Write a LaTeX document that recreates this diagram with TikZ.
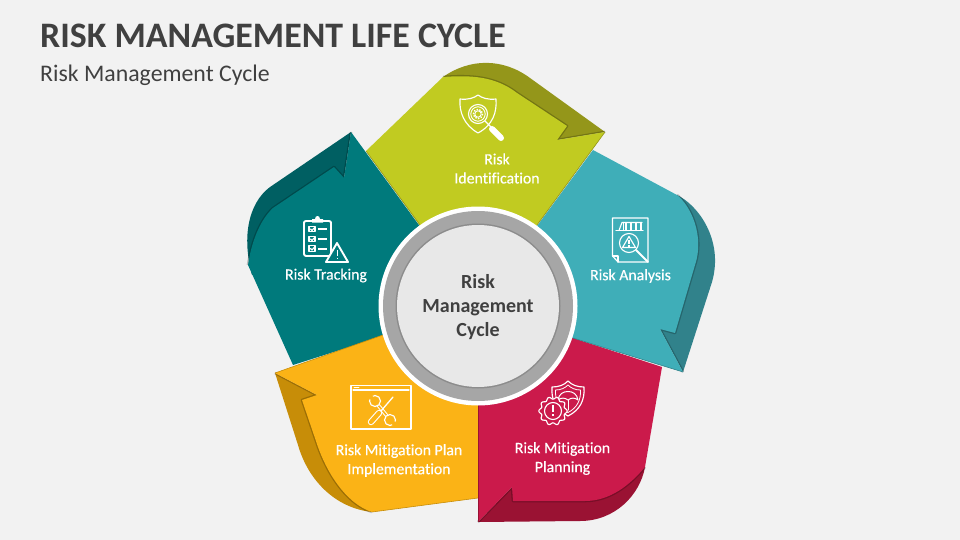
\documentclass[tikz,border=0pt]{standalone}
\usepackage{fontspec}
\setmainfont{Carlito}[Ligatures=NoCommon]
\newfontfamily\labelfont{Carlito}[Ligatures=NoCommon,FakeBold=0.35]
\usepackage{tikz}
\usetikzlibrary{positioning}

\definecolor{pagebg}{HTML}{F2F2F2}
\definecolor{inktext}{HTML}{404040}
\definecolor{limeMain}{HTML}{C1CB21}
\definecolor{limeDark}{HTML}{94961A}
\definecolor{aquaMain}{HTML}{3FAEB8}
\definecolor{aquaDark}{HTML}{31828B}
\definecolor{redMain}{HTML}{CB1A4B}
\definecolor{redDark}{HTML}{9A1233}
\definecolor{goldMain}{HTML}{FBB316}
\definecolor{goldDark}{HTML}{C78D08}
\definecolor{tealMain}{HTML}{007A7C}
\definecolor{tealDark}{HTML}{005F62}

\tikzset{
	steplabel/.style={text=white, align=center, inner sep=0pt, font=\labelfont\fontsize{15.8}{19}\selectfont},
	iconline/.style={draw=white, line width=1.15pt, line join=round, line cap=round},
	iconbold/.style={draw=white, line width=1.9pt, line join=round, line cap=round},
	softedge/.style={draw=black, opacity=.22, line width=2.6pt, line join=round},
}

\def\limeInner{(443,77) .. controls (470,75) and (495,76) .. (517,93) -- (567,126) -- (557,140) -- (605,132)}
\def\tealInner{(351,132) -- (344,178) -- (334,167) -- (273,208) .. controls (262,218) and (252,238) .. (248,265)}
\def\goldInner{(275,373) -- (317,395) -- (302,400) -- (318,447) .. controls (330,480) and (350,505) .. (372,512)}
\def\redInner{(478,522) -- (512,487) -- (513,501) -- (585,501) .. controls (610,501) and (630,485) .. (645,467)}
\def\aquaInner{(677,195) .. controls (690,205) and (705,235) .. (695,265) -- (675,333) -- (660,329) -- (683,372)}

\begin{document}
\begin{tikzpicture}[x=1pt, y=-1pt]
	\useasboundingbox (0,0) rectangle (960,540);
	\fill[pagebg] (0,0) rectangle (960,540);

	\node[anchor=west, text=inktext, inner sep=0pt, font=\fontsize{35.85}{40}\selectfont\bfseries] (title) at (40,35.5) {RISK MANAGEMENT LIFE CYCLE};
	\node[anchor=west, text=inktext, inner sep=0pt, font=\fontsize{23.8}{28}\selectfont] (subtitle) at (40,75) {Risk Management Cycle};

	% lime segment
	\fill[limeDark] (443,77) .. controls (470,58) and (503,58) .. (530,78) -- (605,132) -- (557,140) -- cycle;
	\draw[softedge] \limeInner;
	\fill[limeMain] (366,151) -- \limeInner -- (478,306) -- cycle;

	% dark teal segment
	\fill[tealDark] (351,132) -- (273,185) .. controls (252,198) and (240,230) .. (252,275) -- (300,270) -- (344,178) -- cycle;
	\draw[softedge] \tealInner;
	\fill[tealMain] \tealInner -- (293,365) -- (478,306) -- cycle;
	\draw[limeDark, line width=.6pt] (366,151) -- (420,225);

	% gold segment
	\fill[goldDark] (275,373) -- (298,445) .. controls (308,480) and (335,508) .. (372,512) -- (340,420) -- (317,395) -- cycle;
	\draw[softedge] \goldInner;
	\fill[goldMain] \goldInner -- (478,498) -- (478,306) -- (383,335) -- cycle;
	\draw[goldDark, line width=.6pt] (275,373) -- (383,335) (372,512) -- (478,498);

	% red segment
	\fill[redDark] (645,467) .. controls (640,495) and (615,521) .. (580,521) -- (478,522) -- (512,487) -- (600,470) -- cycle;
	\draw[softedge] \redInner;
	\fill[redMain] \redInner -- (662,367) -- (573,338) -- (478,306) -- cycle;
	\draw[redDark, line width=.6pt] (478,400) -- (478,522);

	% aqua segment
	\fill[aquaDark] (677,195) .. controls (698,205) and (724,240) .. (712,282) -- (683,372) -- (660,329) -- (660,250) -- cycle;
	\draw[softedge] \aquaInner;
	\fill[aquaMain] (593,150) -- \aquaInner -- (573,338) -- (478,306) -- cycle;
	\draw[aquaDark, line width=.6pt] (683,372) -- (573,338);
	\draw[limeDark, line width=.6pt] (605,132) -- (537,225);

	% hub
	\node[circle, fill=white, inner sep=0pt, minimum size=199pt] (hubEdge) at (478,306) {};
	\node[circle, fill=black!35, inner sep=0pt, minimum size=190pt] (hubRing) at (hubEdge) {};
	\node[circle, fill=black!45, inner sep=0pt, minimum size=165pt] (hubShade) at (hubEdge) {};
	\node[circle, fill=black!9, inner sep=0pt, minimum size=162pt] (hub) at (hubEdge) {};
	\node[text=inktext, align=center, inner sep=0pt, font=\fontsize{20}{24}\selectfont\bfseries] (hubLabel) at (478,307) {Risk\\Management\\Cycle};

	\node[steplabel] (identification) at (497,168.5) {Risk\\Identification};
	\node[steplabel] (analysis) at (630.5,276) {Risk Analysis};
	\node[steplabel] (planning) at (562.5,458.5) {Risk Mitigation\\Planning};
	\node[steplabel] (implementation) at (399,460.5) {Risk Mitigation Plan\\Implementation};
	\node[steplabel] (tracking) at (326,275.5) {Risk Tracking};

	% shield with magnifier
	\draw[iconline] (460,99) .. controls (468,100) and (474,98) .. (478,95) .. controls (482,98) and (488,100) .. (496,99) .. controls (497,112) and (493,125) .. (478,133) .. controls (464,125) and (459,112) .. (460,99) -- cycle;
	\draw[iconline, fill=limeMain] (478,114) circle (9.5);
	\draw[iconline, line width=.9pt] (478,114) circle (7.2);
	\draw[white, line width=1.4pt, dash pattern=on 1.5pt off 1.3pt] (478,114) circle (4.6);
	\draw[white, line width=.9pt] (478,114) circle (3.2);
	\draw[iconline] (485,121) -- (491,127);
	\draw[white, line width=6pt, line cap=round] (492,129) -- (501,138);

	% report with magnifier
	\draw[iconline] (612.5,218) -- (648,218) -- (648,262) -- (618,262) -- (612.5,256) -- cycle;
	\draw[iconline] (612.5,256) -- (618,256) -- (618,262);
	\draw[iconline] (616,230.5) -- (643,230.5);
	\draw[iconline] (619,230.5) -- (622,222.5) -- (642,222.5);
	\foreach \xbar in {623.5,626,631,636,641}
		\draw[iconline] (\xbar,222.5) -- (\xbar,230.5);
	\draw[iconline, fill=aquaMain] (629,243) circle (9.5);
	\draw[iconline] (629,236.5) -- (635.5,247.5) -- (622.5,247.5) -- cycle;
	\draw[white, line width=1.2pt] (629,240) -- (629,244) (629,245) -- (629,246.5);
	\draw[iconbold] (636,250) -- (648,262);

	% shield with umbrella and gear
	\draw[iconline] (552,387) .. controls (559,387) and (564,385) .. (568,381) .. controls (572,385) and (577,387) .. (584,387) .. controls (585,400) and (580,410) .. (568,416) .. controls (556,410) and (551,400) .. (552,387) -- cycle;
	\draw[iconline, line width=.8pt] (555.5,390) .. controls (561,390) and (565,388) .. (568,385) .. controls (571,388) and (575,390) .. (580.5,390) .. controls (581,400) and (577,408) .. (568,412.5) .. controls (559,408) and (555,400) .. (555.5,390) -- cycle;
	\draw[iconline, line width=1pt] (558,400) .. controls (559,394) and (563,391.5) .. (568,391.5) .. controls (573,391.5) and (577,394) .. (578,400) .. controls (575,397.5) and (571,397.5) .. (568,400) .. controls (565,397.5) and (561,397.5) .. (558,400) -- cycle;
	\draw[iconline, line width=1pt] (568,400) -- (568,410);
	\draw[iconline, fill=redMain] plot[domain=0:360, samples=96, smooth] ({553+(13+1.2*cos(10*\x))*cos(\x)}, {411+(13+1.2*cos(10*\x))*sin(\x)}) -- cycle;
	\draw[iconline] (553,411) circle (8.5);
	\draw[white, line width=1.8pt] (553,405) -- (553,412) (553,414) -- (553,416);

	% window with crossed tools
	\draw[iconline, line width=1.2pt] (351,385.5) rectangle (411,429);
	\draw[iconline] (353,390) -- (409,390);
	\draw[iconline, line width=.7pt] (354,387.5) -- (359,387.5);
	\draw[white, line width=3.6pt] (378,405) -- (387,416);
	\draw[goldMain, line width=1.6pt] (378,405) -- (387,416);
	\draw[iconline, fill=goldMain] (375,401) circle (5.5);
	\draw[goldMain, line width=4pt] (370,396.5) -- (375,401);
	\draw[iconline, fill=goldMain] (390,420) circle (5.5);
	\draw[goldMain, line width=4pt] (395,424.5) -- (390,420);
	\draw[iconbold, line width=1.3pt] (393,397) -- (381,411);
	\draw[white, line width=6.4pt, line cap=round] (379,413) -- (371,422);
	\draw[goldMain, line width=4.2pt, line cap=round] (379,413) -- (371,422);

	% clipboard with warning sign
	\draw[iconbold] (312,221) -- (306,221) .. controls (304.5,221) and (304,222) .. (304,223) -- (304,254) .. controls (304,255) and (305,256) .. (306,256) -- (329,256) .. controls (330.5,256) and (331,255) .. (331,254) -- (331,223) .. controls (331,222) and (330.5,221) .. (329,221) -- (323,221);
	\fill[white] (312,222.5) -- (312,219) -- (315,219) .. controls (315,215) and (320,215) .. (320,219) -- (323,219) -- (323,222.5) -- cycle;
	\foreach \yrow in {229,239,248.5} {
		\draw[iconline, line width=1.1pt] (309,\yrow-2.7) rectangle (315,\yrow+2.7);
		\draw[iconline, line width=1.2pt] (310.5,\yrow) -- (312,\yrow+1.5) -- (315,\yrow-2);
		\draw[white, line width=2pt] (318,\yrow) -- (327,\yrow);
	}
	\draw[iconbold, fill=tealMain] (337,243) -- (348,262) -- (326,262) -- cycle;
	\draw[white, line width=1pt] (337,250) -- (337,256) (337,257.5) -- (337,259);
\end{tikzpicture}
\end{document}
